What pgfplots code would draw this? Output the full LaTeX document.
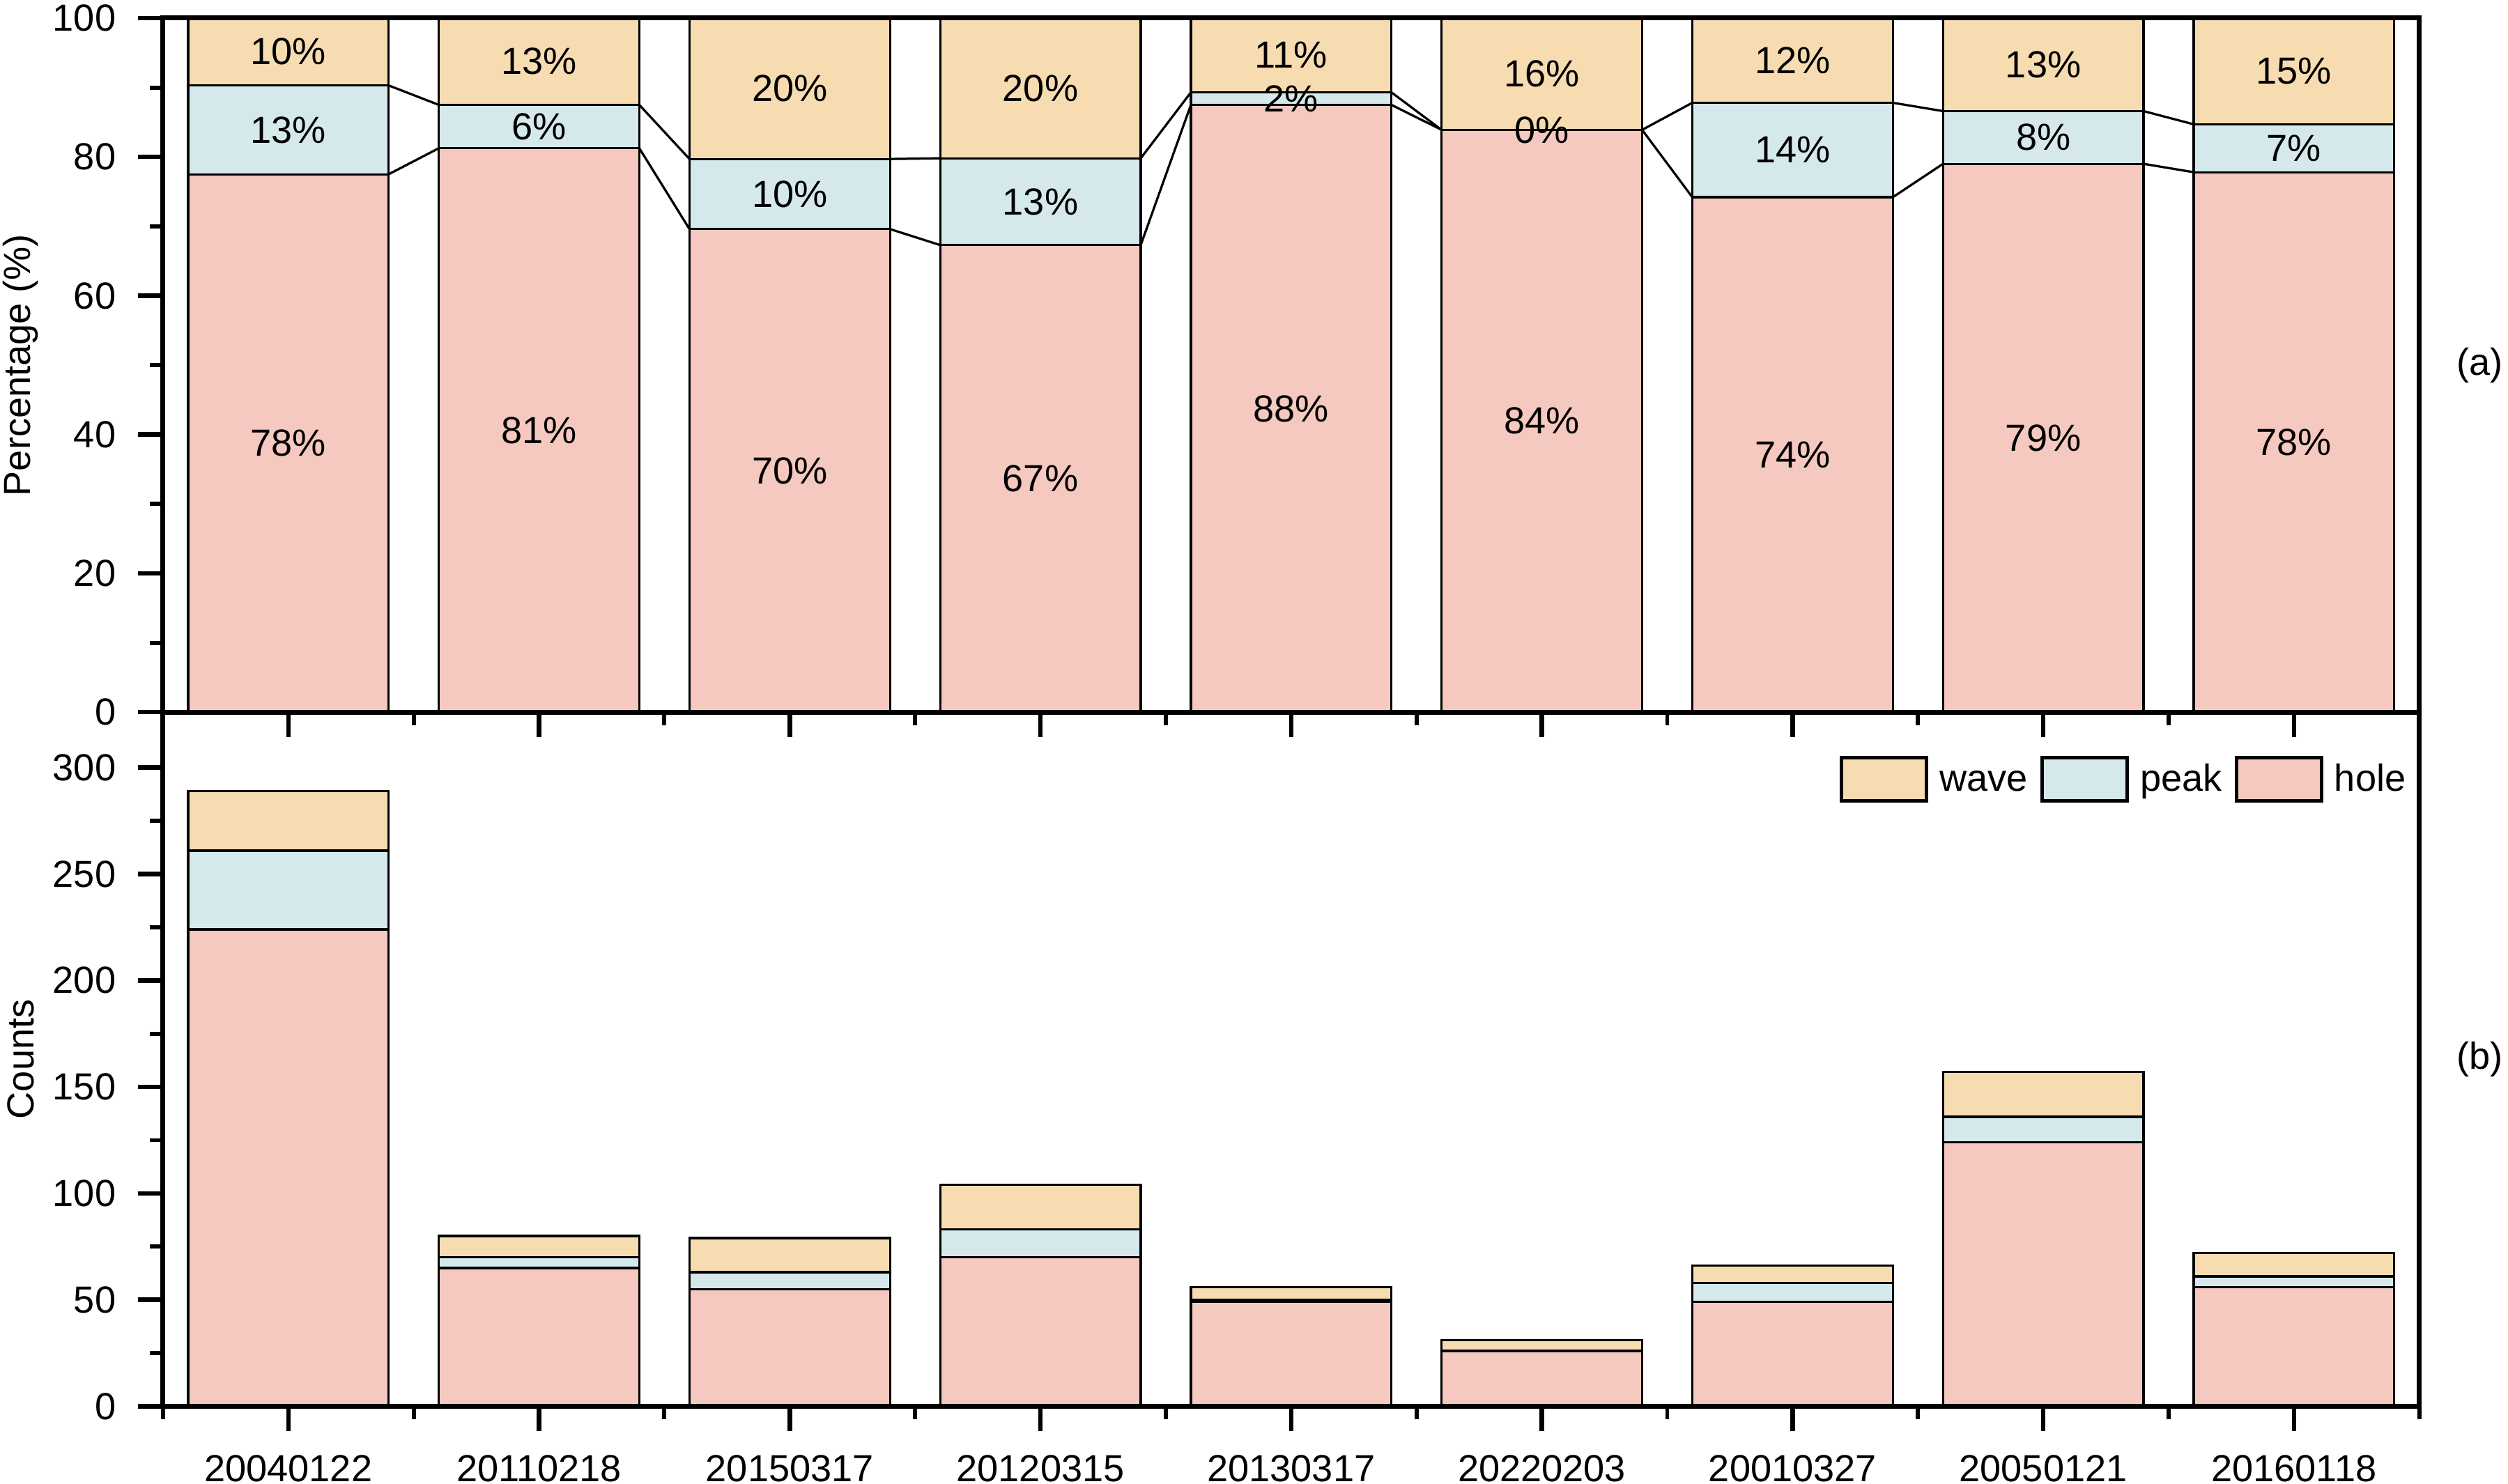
\documentclass[border=0pt]{standalone}
\usepackage{pgfplots}
\pgfplotsset{compat=1.18}
\usepackage{pgfplotstable}
\usepackage{fontspec}
\setmainfont{Liberation Sans}
\definecolor{cwave}{RGB}{246,220,176}
\definecolor{cpeak}{RGB}{213,233,236}
\definecolor{chole}{RGB}{245,201,191}

\pgfplotstableread{
x hole peak wave hl pl wl
0 77.5 12.8 9.7 78 13 10
1 81.25 6.25 12.5 81 6 13
2 69.6 10.1 20.3 70 10 20
3 67.3 12.5 20.2 67 13 20
4 87.5 1.8 10.7 88 2 11
5 83.9 0 16.1 84 0 16
6 74.2 13.6 12.2 74 14 12
7 79.0 7.6 13.4 79 8 13
8 77.8 6.9 15.3 78 7 15
}\pct

\pgfplotstableread{
x hole peak wave
0 224 37 28
1 65 5 10
2 55 8 16
3 70 13 21
4 49 1 6
5 26 0 5
6 49 9 8
7 124 12 21
8 56 5 11
}\cnt

\pgfplotsset{
  base/.style={
    scale only axis, width=598pt, height=184pt,
    xmin=-0.5, xmax=8.5, enlarge x limits=false,
    tick pos=left, tick align=outside,
    xtick={0,...,8}, minor xtick={-0.5,0.5,...,8.5},
    axis line style={line width=1.3pt},
    major tick style={line width=1.2pt, black},
    minor tick style={line width=1.1pt, black},
    major tick length=6.6pt, minor tick length=3.4pt,
    /pgf/number format/assume math mode=true,
    yticklabel style={inner sep=0pt, xshift=-5.7pt},
    xticklabel style={inner sep=0pt, yshift=-6.1pt},
    every axis y label/.style={at={(axis description cs:0,0.5)}, xshift=-37.7pt, rotate=90, anchor=center, inner sep=0pt},
    axis on top, clip=false,
  },
  barst/.style={draw=black, line width=0.6pt, bar width=0.8},
  boxlegend/.style={legend image code/.code={\draw[##1, line width=0.9pt] (0pt,-2.5pt) rectangle (22.5pt,8.9pt);}},
  lab/.style={only marks, mark=*, mark size=0pt, mark options={draw=none,fill=none},
    point meta=explicit symbolic, nodes near coords={\pgfplotspointmeta\%},
    every node near coord/.append style={anchor=center, inner sep=0pt, black}},
}

\begin{document}
\begin{tikzpicture}
% top panel
\begin{axis}[base, ybar stacked, ymin=0, ymax=100, ytick={0,20,...,100}, minor ytick={10,30,...,90},
  xticklabels={}, ylabel={Percentage (\%)}]
\addplot[barst, fill=chole] table[x=x, y=hole] \pct;
\addplot[barst, fill=cpeak] table[x=x, y=peak] \pct;
\addplot[barst, fill=cwave] table[x=x, y=wave] \pct;
\node[anchor=center] at (rel axis cs:1,0.5) [xshift=16pt] {(a)};
\end{axis}
% overlay for labels and connecting lines
\begin{axis}[scale only axis, width=598pt, height=184pt, xmin=-0.5, xmax=8.5, ymin=0, ymax=100, hide axis, clip=false]
\addplot[black, line width=0.6pt, unbounded coords=jump, mark=none] coordinates {
(0.4,77.5) (0.6,81.25) (nan,nan) (1.4,81.25) (1.6,69.6) (nan,nan)
(2.4,69.6) (2.6,67.3) (nan,nan) (3.4,67.3) (3.6,87.5) (nan,nan)
(4.4,87.5) (4.6,83.9) (nan,nan) (5.4,83.9) (5.6,74.2) (nan,nan)
(6.4,74.2) (6.6,79.0) (nan,nan) (7.4,79.0) (7.6,77.8)};
\addplot[black, line width=0.6pt, unbounded coords=jump, mark=none] coordinates {
(0.4,90.3) (0.6,87.5) (nan,nan) (1.4,87.5) (1.6,79.7) (nan,nan)
(2.4,79.7) (2.6,79.8) (nan,nan) (3.4,79.8) (3.6,89.3) (nan,nan)
(4.4,89.3) (4.6,83.9) (nan,nan) (5.4,83.9) (5.6,87.8) (nan,nan)
(6.4,87.8) (6.6,86.6) (nan,nan) (7.4,86.6) (7.6,84.7)};
\addplot[lab] table[x=x, y expr=\thisrow{hole}/2, meta=hl] \pct;
\addplot[lab] table[x=x, y expr=\thisrow{hole}+\thisrow{peak}/2, meta=pl] \pct;
\addplot[lab] table[x=x, y expr=\thisrow{hole}+\thisrow{peak}+\thisrow{wave}/2, meta=wl] \pct;
\end{axis}
% bottom panel
\begin{axis}[base, at={(0,0)}, anchor=north west, ybar stacked, ymin=0, ymax=326,
  ytick={0,50,...,300}, minor ytick={25,75,...,275},
  xticklabels={20040122,20110218,20150317,20120315,20130317,20220203,20010327,20050121,20160118},
  ylabel={Counts},
  legend columns=3, legend cell align=left,
  legend style={at={(rel axis cs:1,1)}, anchor=north east, xshift=-3.4pt, yshift=-11.4pt,
    draw=none, fill=none, inner sep=0pt, column sep=0pt,
    cells={anchor=base west},
    /tikz/every odd column/.append style={column sep=3pt},
    /tikz/every even column/.append style={column sep=3.4pt},
    nodes={inner sep=0pt}}]
\addlegendimage{boxlegend, fill=cwave, draw=black}
\addlegendentry{wave}
\addlegendimage{boxlegend, fill=cpeak, draw=black}
\addlegendentry{peak}
\addlegendimage{boxlegend, fill=chole, draw=black}
\addlegendentry{hole}
\addplot[barst, fill=chole] table[x=x, y=hole] \cnt;
\addplot[barst, fill=cpeak] table[x=x, y=peak] \cnt;
\addplot[barst, fill=cwave] table[x=x, y=wave] \cnt;
\node[anchor=center] at (rel axis cs:1,0.5) [xshift=16pt] {(b)};
\end{axis}
\pgfresetboundingbox
\path[use as bounding box] (-43.2pt,188.8pt) rectangle (621.5pt,-204.5pt);
\end{tikzpicture}
\end{document}
